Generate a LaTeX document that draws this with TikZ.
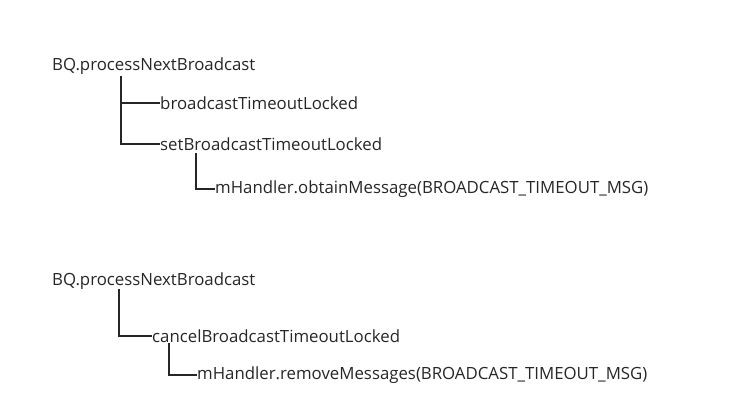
\documentclass[tikz,border=0pt]{standalone}
\usepackage{fontspec}
\setmainfont{Open Sans}
\definecolor{inkgray}{HTML}{262626}
\tikzset{
  call/.style={anchor=west, inner sep=0pt, text=inkgray, font=\fontsize{16.8}{20}\selectfont},
  branch/.style={draw=inkgray, line width=2pt}
}
\begin{document}
\begin{tikzpicture}[x=1pt,y=-1pt]
\useasboundingbox (0,0) rectangle (729,415);
% first call chain
\node[call] (root1) at (52,66) {BQ.processNextBroadcast};
\node[call] (bto) at (160,103) {broadcastTimeoutLocked};
\node[call] (setbto) at (160,144) {setBroadcastTimeoutLocked};
\node[call] (obtain) at (215,189) {mHandler.obtainMessage(BROADCAST\_TIMEOUT\_MSG)};
\draw[branch] (121,76) |- (bto.west);
\draw[branch] (121,76) |- (setbto.west);
\draw[branch] (196,153) |- (obtain.west);
% second call chain
\node[call] (root2) at (52,281) {BQ.processNextBroadcast};
\node[call] (cancel) at (152,336) {cancelBroadcastTimeoutLocked};
\node[call] (remove) at (197,375) {mHandler.removeMessages(BROADCAST\_TIMEOUT\_MSG)};
\draw[branch] (119,289) |- (cancel.west);
\draw[branch] (169,343) |- (remove.west);
\end{tikzpicture}
\end{document}
